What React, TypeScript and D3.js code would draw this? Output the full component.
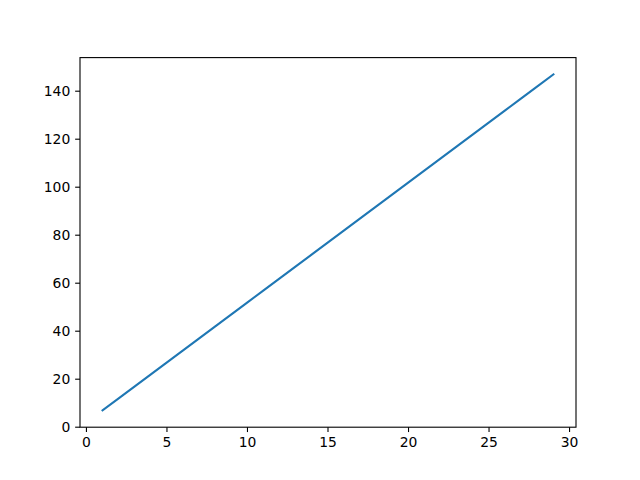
import * as d3 from "d3";

const width = 640;
const height = 480;
const margin = { top: 57.6, right: 64, bottom: 52.8, left: 80 };

// series values
const xValues = [
  1, 2, 3, 4, 5, 6, 7, 8, 9, 10, 11, 12, 13, 14, 15, 16, 17, 18, 19, 20, 21,
  22, 23, 24, 25, 26, 27, 28, 29,
];
const yValues = [
  7, 12, 17, 22, 27, 32, 37, 42, 47, 52, 57, 62, 67, 72, 77, 82, 87, 92, 97,
  102, 107, 112, 117, 122, 127, 132, 137, 142, 147,
];

const xTicks = [0, 5, 10, 15, 20, 25, 30];
const yTicks = [0, 20, 40, 60, 80, 100, 120, 140];

const tickLen = 4.86;
const tickPad = 4.86;
const font = "'DejaVu Sans', sans-serif";

export default function App() {
  const data = xValues.map((x, i) => ({ x, y: yValues[i] }));

  const xMin = d3.min(xValues) ?? 0;
  const xMax = d3.max(xValues) ?? 0;
  const yMin = d3.min(yValues) ?? 0;
  const yMax = d3.max(yValues) ?? 0;
  const xPad = (xMax - xMin) * 0.05;
  const yPad = (yMax - yMin) * 0.05;

  const x = d3
    .scaleLinear()
    .domain([xMin - xPad, xMax + xPad])
    .range([margin.left, width - margin.right]);

  const y = d3
    .scaleLinear()
    .domain([yMin - yPad, yMax + yPad])
    .range([height - margin.bottom, margin.top]);

  const line = d3
    .line<{ x: number; y: number }>()
    .x((d) => x(d.x))
    .y((d) => y(d.y));

  const bottom = height - margin.bottom;

  return (
    <div style={{ position: "fixed", left: 0, top: 0 }}>
      <svg width={width} height={height} style={{ display: "block", background: "#fff" }}>
        <path
          d={line(data) ?? ""}
          fill="none"
          stroke="#1f77b4"
          strokeWidth={2.08}
          strokeLinecap="square"
        />

        {/* 邊框 */}
        <rect
          x={margin.left}
          y={margin.top}
          width={width - margin.left - margin.right}
          height={height - margin.top - margin.bottom}
          fill="none"
          stroke="#000"
          strokeWidth={1.1}
        />

        {/* x 軸刻度 */}
        {xTicks.map((t) => (
          <g key={`x${t}`}>
            <line x1={x(t)} x2={x(t)} y1={bottom} y2={bottom + tickLen} stroke="#000" strokeWidth={1.1} />
            <text
              x={x(t)}
              y={bottom + tickLen + tickPad}
              dy="0.76em"
              textAnchor="middle"
              fontFamily={font}
              fontSize={13.9}
              fill="#000"
            >
              {t}
            </text>
          </g>
        ))}

        {/* y 軸刻度 */}
        {yTicks.map((t) => (
          <g key={`y${t}`}>
            <line x1={margin.left - tickLen} x2={margin.left} y1={y(t)} y2={y(t)} stroke="#000" strokeWidth={1.1} />
            <text
              x={margin.left - tickLen - tickPad}
              y={y(t)}
              dy="0.36em"
              textAnchor="end"
              fontFamily={font}
              fontSize={13.9}
              fill="#000"
            >
              {t}
            </text>
          </g>
        ))}
      </svg>
    </div>
  );
}
